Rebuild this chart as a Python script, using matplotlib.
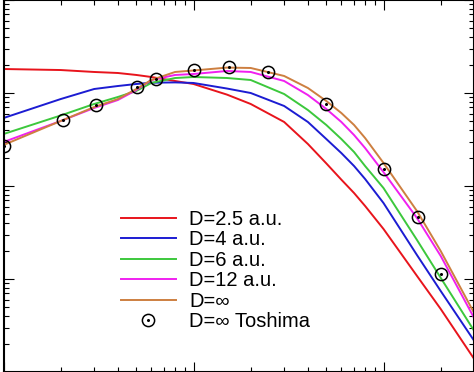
import matplotlib
matplotlib.use("Agg")
import matplotlib.pyplot as plt

# energy grid (arbitrary units, log axis) shared by the model curves
x = [1, 2, 3, 4, 5, 6, 8, 10, 15, 20, 30, 40, 50, 60, 70, 80, 100, 150, 200, 298]

d_25 = [1811, 1766, 1683, 1641, 1563, 1486, 1346, 1250, 961, 762, 488, 283, 175, 117, 84, 61.0, 34.5, 10.8, 4.76, 1.41]
d_4 = [538, 861, 1104, 1189, 1250, 1290, 1300, 1282, 1117, 1000, 725, 488, 320, 226, 164, 119, 65.6, 18.1, 7.43, 2.21]
d_6 = [362, 573, 762, 906, 1052, 1282, 1449, 1486, 1450, 1380, 975, 656, 453, 320, 232, 164, 95.1, 26.3, 10.3, 2.83]
d_12 = [297, 500, 690, 841, 1076, 1380, 1563, 1600, 1725, 1683, 1346, 951, 673, 488, 353, 256, 141, 45.3, 17.7, 3.90]
d_inf = [276, 500, 706, 861, 1104, 1380, 1683, 1746, 1876, 1858, 1524, 1132, 820, 609, 453, 328, 177, 53.8, 20.0, 4.42]

# Toshima reference points
tosh_x = [1.01, 2.05, 3.05, 5.07, 6.31, 10, 15.3, 24.8, 50.1, 100, 151, 200]
tosh_y = [269, 513, 743, 1160, 1415, 1767, 1904, 1682, 762, 152, 46.4, 11.3]

labels = ["D=2.5 a.u.", "D=4 a.u.", "D=6 a.u.", "D=12 a.u.", "D=\u221e"]
colors = ["#e8141c", "#1c1cd2", "#3cc83c", "#f020f0", "#cd7f40"]

plt.rcParams['font.family'] = ['Liberation Sans', 'DejaVu Sans']

fig = plt.figure(figsize=(4.74, 3.72), dpi=100)
ax = fig.add_axes([3.5 / 474, 0, 470 / 474, 1])

for ys, lab, c in zip([d_25, d_4, d_6, d_12, d_inf], labels, colors):
    ax.plot(x, ys, color=c, lw=1.4, label=lab)

circ, = ax.plot(tosh_x, tosh_y, 'o', ms=8.8, mfc='none', mec='black', mew=1.1)
dot, = ax.plot(tosh_x, tosh_y, 'o', ms=1.2, color='black')

ax.set_xscale('log')
ax.set_yscale('log')
ax.set_xlim(1, 10 ** (470 / 190))
ax.set_ylim(1, 1e4)

ax.tick_params(which='both', direction='in', top=True, right=True,
               labelbottom=False, labelleft=False, width=0.8)
ax.tick_params(which='major', length=7.5)
ax.tick_params(which='minor', length=3.8)
for s in ax.spines.values():
    s.set_linewidth(1.5)

handles, labs = ax.get_legend_handles_labels()
handles.append((circ, dot))
labs.append("D=\u221e Toshima")
ax.legend(handles, labs, loc='upper left', bbox_to_anchor=(117 / 470, 1 - 210 / 372),
          frameon=False, fontsize=14.5, handlelength=2.75, handletextpad=0.65,
          labelspacing=0.07, borderaxespad=0, borderpad=0)

fig.savefig("out.png", dpi=100)
